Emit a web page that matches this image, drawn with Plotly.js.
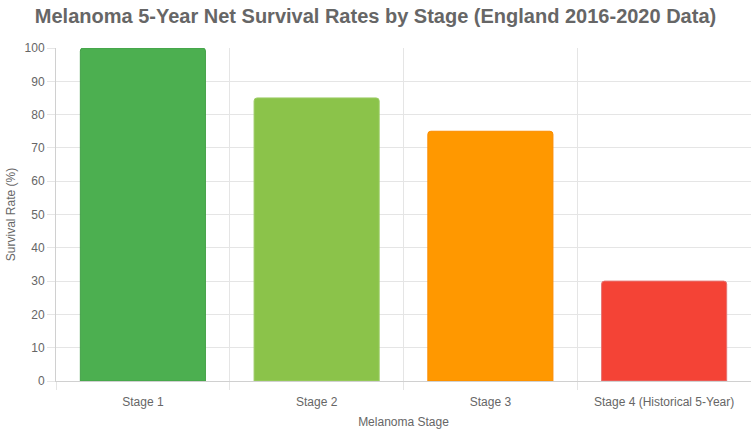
<!DOCTYPE html>
<html>
<head>
<meta charset="utf-8">
<script src="https://cdn.plot.ly/plotly-3.0.1.min.js"></script>
<style>
  html, body { margin: 0; padding: 0; background: #fff; }
  #chart { width: 751px; height: 433px; }
</style>
</head>
<body>
<div id="chart"></div>
<script>
var stages = ["Stage 1", "Stage 2", "Stage 3", "Stage 4 (Historical 5-Year)"];
var survivalRates = [100, 85, 75, 30];
var barColors = ["#4CAF50", "#8BC34A", "#FF9800", "#F44336"];
var borderColors = ["#43A047", "#9CCC65", "#FB8C00", "#E57373"];
var yTicks = [0, 10, 20, 30, 40, 50, 60, 70, 80, 90, 100];

function drawChart() {
  if (typeof Plotly === "undefined") return;
  var trace = {
    x: stages,
    y: survivalRates,
    type: "bar",
    width: 0.72,
    marker: {
      color: barColors,
      line: { color: borderColors, width: 1 }
    },
    hoverinfo: "x+y"
  };

  var layout = {
    width: 751,
    height: 433,
    margin: { t: 48, r: 0, b: 52, l: 56 },
    paper_bgcolor: "#ffffff",
    plot_bgcolor: "#ffffff",
    showlegend: false,
    barcornerradius: 3,
    font: { family: "Liberation Sans, Arial, sans-serif", size: 12, color: "#666666" },
    title: {
      text: "<b>Melanoma 5-Year Net Survival Rates by Stage (England 2016-2020 Data)</b>",
      font: { family: "Liberation Sans, Arial, sans-serif", size: 20, color: "#666666" },
      x: 0.5,
      xanchor: "center",
      y: 0.962,
      yanchor: "middle"
    },
    xaxis: {
      type: "category",
      tickson: "boundaries",
      ticks: "outside",
      ticklen: 8,
      tickcolor: "#e5e5e5",
      ticklabelstandoff: 10,
      showgrid: true,
      gridcolor: "#e5e5e5",
      showline: true,
      linecolor: "#d0d0d0",
      tickfont: { size: 12, color: "#666666" },
      title: { text: "Melanoma Stage", font: { size: 12, color: "#666666" }, standoff: 9 },
      fixedrange: true
    },
    yaxis: {
      range: [0, 100],
      tickvals: yTicks,
      ticktext: yTicks.map(String),
      ticks: "outside",
      ticklen: 8,
      tickcolor: "#e5e5e5",
      showgrid: true,
      gridcolor: "#e5e5e5",
      zeroline: false,
      showline: true,
      linecolor: "#d0d0d0",
      tickfont: { size: 12, color: "#666666" },
      title: { text: "Survival Rate (%)", font: { size: 12, color: "#666666" }, standoff: 6 },
      fixedrange: true
    }
  };

  Plotly.newPlot("chart", [trace], layout, { displayModeBar: false, responsive: false });
}

drawChart();
</script>
</body>
</html>
